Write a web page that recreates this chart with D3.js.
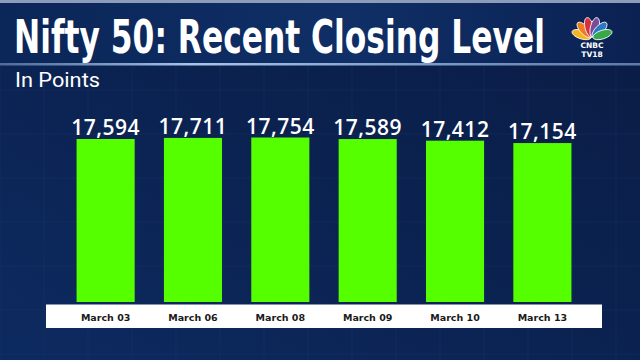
<!DOCTYPE html>
<html>
<head>
<meta charset="utf-8">
<script src="https://cdn.jsdelivr.net/npm/d3@7"></script>
<style>
  body { margin: 0; background: #0a1f4a; }
  svg { display: block; }
</style>
</head>
<body>
<svg width="640" height="360"></svg>
<script>
// chart values
var dates = ["March 03", "March 06", "March 08", "March 09", "March 10", "March 13"];
var closes = [17594, 17711, 17754, 17589, 17412, 17154];
var titleText = "Nifty 50: Recent Closing Level";
var unitText = "In Points";

var fmt = d3.format(",");

var svg = d3.select("svg"),
    W = +svg.attr("width"),
    H = +svg.attr("height");

var defs = svg.append("defs");

// background gradient
var bg = defs.append("linearGradient").attr("id", "bg")
    .attr("x1", 0).attr("y1", 1).attr("x2", 1).attr("y2", 0);
bg.append("stop").attr("offset", "0%").attr("stop-color", "#0d2a60");
bg.append("stop").attr("offset", "45%").attr("stop-color", "#0b2352");
bg.append("stop").attr("offset", "100%").attr("stop-color", "#0a1c44");

var band = defs.append("linearGradient").attr("id", "band")
    .attr("x1", 0).attr("y1", 0).attr("x2", 1).attr("y2", 0);
band.append("stop").attr("offset", "0%").attr("stop-color", "#0b2658");
band.append("stop").attr("offset", "55%").attr("stop-color", "#0f2f66");
band.append("stop").attr("offset", "100%").attr("stop-color", "#0b2152");

var rule = defs.append("linearGradient").attr("id", "rule")
    .attr("x1", 0).attr("y1", 0).attr("x2", 1).attr("y2", 0);
rule.append("stop").attr("offset", "0%").attr("stop-color", "#8fb4e0").attr("stop-opacity", 0.5);
rule.append("stop").attr("offset", "30%").attr("stop-color", "#a8c6ec");
rule.append("stop").attr("offset", "100%").attr("stop-color", "#7fa3d4").attr("stop-opacity", 0.7);

svg.append("rect").attr("width", W).attr("height", H).attr("fill", "url(#bg)");

// faint grid in the background
var grid = svg.append("g").attr("stroke", "#1b3a72").attr("stroke-opacity", 0.3);
d3.range(0, W, 44).forEach(function(gx) {
  grid.append("line").attr("x1", gx).attr("x2", gx).attr("y1", 66).attr("y2", H);
});
d3.range(90, H, 44).forEach(function(gy) {
  grid.append("line").attr("x1", 0).attr("x2", W).attr("y1", gy).attr("y2", gy);
});

// title band
svg.append("rect").attr("x", 0).attr("y", 0).attr("width", W).attr("height", 3).attr("fill", "#8d9cb8");
svg.append("rect").attr("x", 0).attr("y", 3).attr("width", W).attr("height", 60).attr("fill", "url(#band)");
svg.append("rect").attr("x", 0).attr("y", 63).attr("width", W).attr("height", 2.5).attr("fill", "url(#rule)");

// title: pick a font size that fits 531px wide, then stretch it vertically
var title = svg.append("text")
    .attr("fill", "#fff")
    .attr("font-family", "'Liberation Sans Narrow', 'DejaVu Sans Condensed', Roboto, sans-serif")
    .attr("font-weight", "bold")
    .attr("font-size", 46)
    .text(titleText);
var tw = title.node().getComputedTextLength();
var fs = 46 * 531 / tw;
title.attr("font-size", fs)
    .attr("transform", "translate(14,53) scale(1," + (46 / fs) + ")");

svg.append("text")
    .attr("x", 15).attr("y", 87)
    .attr("fill", "#fff")
    .attr("font-family", "Roboto, sans-serif")
    .attr("font-size", 20)
    .attr("textLength", 85)
    .attr("lengthAdjust", "spacingAndGlyphs")
    .text(unitText);

// CNBC-TV18 logo (peacock drawn roughly)
var logo = svg.append("g").attr("transform", "translate(592,38)");
var petals = ["#f6b520", "#ef7b22", "#d6303e", "#7d4a98", "#2a77c4", "#39a84a"];
petals.forEach(function(c, i) {
  var a = -72 + i * 28.8;
  logo.append("ellipse")
      .attr("cx", 0).attr("cy", -11)
      .attr("rx", 4.3).attr("ry", 10)
      .attr("fill", c)
      .attr("stroke", "#fff").attr("stroke-width", 0.8)
      .attr("transform", "rotate(" + a + ")");
});
logo.append("text").attr("x", 0).attr("y", 9.5).attr("text-anchor", "middle")
    .attr("fill", "#fff").attr("font-family", "'DejaVu Sans', sans-serif")
    .attr("font-weight", "bold").attr("font-size", 7.5).text("CNBC");
logo.append("text").attr("x", 0).attr("y", 19).attr("text-anchor", "middle")
    .attr("fill", "#fff").attr("font-family", "'DejaVu Sans', sans-serif")
    .attr("font-weight", "bold").attr("font-size", 7.5).text("TV18");

// scales
var x = d3.scaleBand()
    .domain(dates)
    .range([46, 602])
    .paddingInner(0.335)
    .paddingOuter(0.35);

var y = d3.scaleLinear()
    .domain([0, 20000])
    .range([302, 116.7]);

// bars
var bar = svg.append("g").selectAll("g")
  .data(dates)
  .enter().append("g");

bar.append("rect")
    .attr("x", function(d) { return x(d); })
    .attr("y", function(d, i) { return y(closes[i]); })
    .attr("width", x.bandwidth())
    .attr("height", function(d, i) { return y(0) - y(closes[i]); })
    .attr("fill", "#55ff00");

bar.append("text")
    .attr("x", function(d) { return x(d) + x.bandwidth() / 2; })
    .attr("y", function(d, i) { return y(closes[i]) - 4; })
    .attr("text-anchor", "middle")
    .attr("fill", "#fff")
    .attr("font-family", "'Open Sans', sans-serif")
    .attr("font-weight", 600)
    .attr("font-size", 21)
    .attr("letter-spacing", 0.5)
    .text(function(d, i) { return fmt(closes[i]); });

// white category strip and its axis labels
svg.append("rect")
    .attr("x", 46).attr("y", 304.5)
    .attr("width", 556).attr("height", 23.5)
    .attr("fill", "#fff");

var axis = svg.append("g")
    .attr("transform", "translate(0,304.5)")
    .call(d3.axisBottom(x).tickSize(0).tickPadding(10));
axis.select(".domain").remove();
axis.selectAll("text")
    .attr("fill", "#1a1a1a")
    .attr("font-family", "'DejaVu Sans', sans-serif")
    .attr("font-weight", "bold")
    .attr("font-size", 9.5);
</script>
</body>
</html>
